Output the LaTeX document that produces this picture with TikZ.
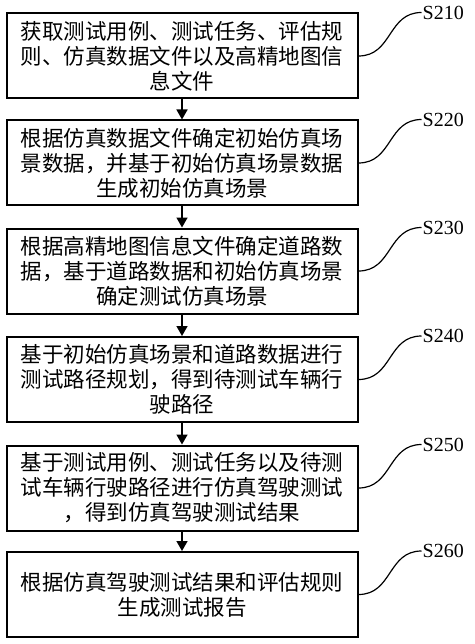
\documentclass[tikz,border=0pt]{standalone}
\usepackage{fontspec}
\setmainfont{Liberation Serif}
\newfontfamily\cjk{Noto Sans CJK SC}
\usetikzlibrary{arrows.meta}
\tikzset{
  stepbox/.style={draw=black, line width=2pt, fill=white, minimum width=351pt, minimum height=85pt,
    inner sep=0pt, align=center, font=\cjk\fontsize{21.5}{25}\selectfont},
  steplabel/.style={anchor=west, inner sep=1pt, font=\fontsize{20}{21}\selectfont},
  flow/.style={line width=1.6pt, -{Triangle[length=10pt,width=11pt]}},
  leader/.style={line width=1.2pt},
}
\begin{document}
\begin{tikzpicture}[x=1pt,y=-1pt]
\useasboundingbox (0,0) rectangle (474,644);
\node[stepbox] (b1) at (182,56) {获取测试用例、测试任务、评估规\\则、仿真数据文件以及高精地图信\\息文件};
\node[stepbox] (b2) at (182,163) {根据仿真数据文件确定初始仿真场\\景数据，并基于初始仿真场景数据\\生成初始仿真场景};
\node[stepbox] (b3) at (182,271) {根据高精地图信息文件确定道路数\\据，基于道路数据和初始仿真场景\\确定测试仿真场景};
\node[stepbox] (b4) at (182,379.5) {基于初始仿真场景和道路数据进行\\测试路径规划，得到待测试车辆行\\驶路径};
\node[stepbox] (b5) at (182,488) {基于测试用例、测试任务以及待测\\试车辆行驶路径进行仿真驾驶测试\\，得到仿真驾驶测试结果};
\node[stepbox] (b6) at (182,594.5) {根据仿真驾驶测试结果和评估规则\\生成测试报告};
\foreach \i/\t in {1/S210,2/S220,3/S230,4/S240,5/S250,6/S260}{
  \path (b\i.north east) ++(63,0) node[steplabel] (l\i) {\t};
  \draw[leader] (b\i.east) .. controls +(34,0) and +(-34,0) .. (l\i.west);
}
\draw[flow] (b1.south) -- (b2.north);
\draw[flow] (b2.south) -- (b3.north);
\draw[flow] (b3.south) -- (b4.north);
\draw[flow] (b4.south) -- (b5.north);
\draw[flow] (b5.south) -- (b6.north);
\end{tikzpicture}
\end{document}
